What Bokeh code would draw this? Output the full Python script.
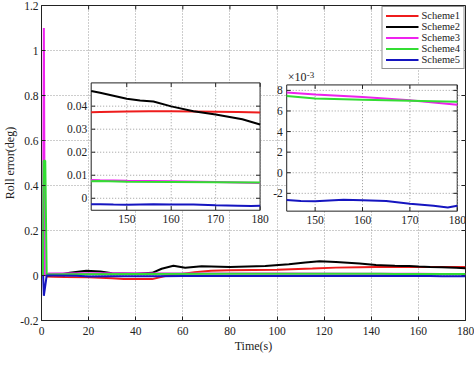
import numpy as np
from bokeh.plotting import figure
from bokeh.models import Range1d, FixedTicker, Legend, LegendItem, Label
from bokeh.embed import file_html
from bokeh.resources import INLINE
from bokeh.core.properties import value

# ---------------- data ----------------
series_names = ["Scheme1", "Scheme2", "Scheme3", "Scheme4", "Scheme5"]

t_s1 = [2, 5, 10, 20, 30, 35, 47, 52, 58, 65, 72, 80, 100, 115, 125, 135, 142, 144, 150, 155, 160, 165, 170, 175, 180]
s1 = [-0.005, -0.006, -0.007, -0.008, -0.012, -0.016, -0.016, -0.003, 0.005, 0.015, 0.021, 0.023, 0.026, 0.031, 0.035, 0.037,
      0.0374, 0.0375, 0.0377, 0.0378, 0.0378, 0.0377, 0.0376, 0.0375, 0.0373]

t_s2 = [2, 8, 12, 19, 25, 30, 40, 47, 51, 56, 61, 68, 80, 95, 105, 112, 118, 125, 135, 142, 144, 147, 150, 153, 156, 160, 165, 170, 176, 180]
s2 = [0, 0.004, 0.012, 0.021, 0.018, 0.01, 0.0075, 0.012, 0.03, 0.043, 0.034, 0.041, 0.038, 0.042, 0.05, 0.058, 0.063, 0.06,
      0.053, 0.0466, 0.0458, 0.0445, 0.0432, 0.0425, 0.0420, 0.0399, 0.0378, 0.0364, 0.0343, 0.032]

t_s3 = [0.6, 1.0, 1.4, 3, 20, 60, 100, 135, 142, 144, 150, 160, 170, 180]
s3 = [0, 1.1, 0, 0.009, 0.0095, 0.009, 0.0085, 0.0081, 0.0079, 0.0078, 0.0076, 0.00735, 0.00705, 0.0066]

t_s4 = [0.6, 0.9, 1.6, 2.2, 10, 40, 80, 120, 142, 144, 150, 160, 170, 180]
s4 = [0, 0.51, 0.51, 0.005, 0.006, 0.007, 0.0075, 0.0075, 0.0074, 0.00745, 0.0072, 0.0071, 0.0070, 0.0069]

t_s5 = [0.7, 1.0, 2.2, 5, 15, 20, 30, 50, 60, 100, 135, 142, 144, 147, 150, 156, 160, 165, 170, 175, 178, 180]
s5 = [0, -0.09, 0.0, 0.0, -0.001, -0.004, -0.003, -0.003, -0.0026, -0.0026, -0.0026, -0.0026, -0.00264, -0.00275,
      -0.00277, -0.00262, -0.00268, -0.00275, -0.0030, -0.0032, -0.00337, -0.0032]

x_ticks = [0, 20, 40, 60, 80, 100, 120, 140, 160, 180]
x_tick_labels = ["0", "20", "40", "60", "80", "100", "120", "140", "160", "180"]
y_ticks = [-0.2, 0, 0.2, 0.4, 0.6, 0.8, 1, 1.2]
y_tick_labels = ["-0.2", "0", "0.2", "0.4", "0.6", "0.8", "1", "1.2"]

in1_x_ticks = [150, 160, 170, 180]
in1_x_labels = ["150", "160", "170", "180"]
in1_y_ticks = [0, 0.01, 0.02, 0.03, 0.04]
in1_y_labels = ["0", "0.01", "0.02", "0.03", "0.04"]

in2_x_ticks = [150, 160, 170, 180]
in2_x_labels = ["150", "160", "170", "180"]
in2_y_ticks = [-0.002, 0, 0.002, 0.004, 0.006, 0.008]
in2_y_labels = ["-2", "0", "2", "4", "6", "8"]

# ---------------- style / layout ----------------
SERIF = "Liberation Serif"
INK = "#222222"
colors = ["#ee1c1c", "#000000", "#ee22ee", "#33dd33", "#1515c0"]
GRID = "#9a9a9a"
X0, X1, Y0, Y1 = 0, 180, -0.2, 1.2

# inset boxes in main data coordinates, and their own data extents
IN1_BOX = (21.1, 92.8, 0.290, 0.856)
IN1_RANGE = (142, 180, -0.0052, 0.0501)
IN2_BOX = (104.1, 176.5, 0.286, 0.847)
IN2_RANGE = (144, 180, -0.00373, 0.00853)

p = figure(width=474, height=370, x_range=Range1d(X0, X1), y_range=Range1d(Y0, Y1),
           output_backend="svg", toolbar_location=None,
           min_border_left=0, min_border_right=9, min_border_top=5, min_border_bottom=50)
p.outline_line_color = INK
p.outline_line_width = 1
p.background_fill_color = "white"
p.border_fill_color = "white"

for ax, ticks, labels in ((p.xaxis[0], x_ticks, x_tick_labels), (p.yaxis[0], y_ticks, y_tick_labels)):
    ax.ticker = FixedTicker(ticks=ticks)
    ax.major_tick_in = 4
    ax.major_tick_out = 0
    ax.minor_tick_line_color = None
    ax.axis_line_color = INK
    ax.major_tick_line_color = INK
    ax.major_label_overrides = dict(zip(ticks, labels))
    ax.major_label_text_font = SERIF
    ax.major_label_text_font_size = "11.5px"
    ax.major_label_text_color = INK
    ax.axis_label_text_font = SERIF
    ax.axis_label_text_font_size = "12px"
    ax.axis_label_text_font_style = "normal"
    ax.axis_label_text_color = INK
p.xaxis.axis_label = "Time(s)"
p.yaxis.axis_label = "Roll error(deg)"
p.xaxis.major_label_standoff = 6
p.xaxis.axis_label_standoff = 1
p.yaxis.major_label_standoff = 3
p.yaxis.axis_label_standoff = 0

# inward ticks on top and right edges of the main frame
p.ray(x=x_ticks, y=[Y1] * len(x_ticks), length=4, angle=-np.pi / 2, length_units="screen", line_color=INK)
p.ray(x=[X1] * len(y_ticks), y=y_ticks, length=4, angle=np.pi, length_units="screen", line_color=INK)

p.xgrid.ticker = FixedTicker(ticks=x_ticks)
p.ygrid.ticker = FixedTicker(ticks=y_ticks)
p.grid.grid_line_color = GRID
p.grid.grid_line_dash = "1 2"
p.grid.grid_line_width = 1

# ---------------- main lines ----------------
ts = [t_s1, t_s2, t_s3, t_s4, t_s5]
vs = [s1, s2, s3, s4, s5]
renderers = []
for t, v, c in zip(ts, vs, colors):
    renderers.append(p.line(t, v, line_color=c, line_width=2))

legend = Legend(items=[LegendItem(label=n, renderers=[r]) for n, r in zip(series_names, renderers)],
                location="top_right")
legend.border_line_color = INK
legend.border_line_width = 1
legend.background_fill_alpha = 1
legend.label_text_font = SERIF
legend.label_text_font_size = "10.5px"
legend.label_text_color = INK
legend.glyph_width = 33
legend.glyph_height = 9
legend.label_height = 9
legend.label_standoff = 3
legend.spacing = 0
legend.padding = 3
legend.margin = 1
p.add_layout(legend)

# ---------------- insets ----------------
def sub_range(a, b, f0, f1):
    w = (b - a) / (f1 - f0)
    s = a - f0 * w
    return Range1d(s, s + w)

def draw_inset(name, box, rng, xt, xl, yt, yl, members):
    bx0, bx1, by0, by1 = box
    ax0, ax1, ay0, ay1 = rng
    xr, yr = name + "x", name + "y"
    p.extra_x_ranges[xr] = sub_range(ax0, ax1, (bx0 - X0) / (X1 - X0), (bx1 - X0) / (X1 - X0))
    p.extra_y_ranges[yr] = sub_range(ay0, ay1, (by0 - Y0) / (Y1 - Y0), (by1 - Y0) / (Y1 - Y0))
    p.quad(left=[bx0], right=[bx1], bottom=[by0], top=[by1], fill_color="white",
           line_color=INK, line_width=1)
    p.segment(x0=xt, y0=[ay0] * len(xt), x1=xt, y1=[ay1] * len(xt), x_range_name=xr, y_range_name=yr,
              line_color=GRID, line_dash="1 2", line_width=1)
    p.segment(x0=[ax0] * len(yt), y0=yt, x1=[ax1] * len(yt), y1=yt, x_range_name=xr, y_range_name=yr,
              line_color=GRID, line_dash="1 2", line_width=1)
    p.ray(x=xt, y=[ay0] * len(xt), length=4, angle=np.pi / 2, length_units="screen",
          x_range_name=xr, y_range_name=yr, line_color=INK)
    p.ray(x=xt, y=[ay1] * len(xt), length=4, angle=-np.pi / 2, length_units="screen",
          x_range_name=xr, y_range_name=yr, line_color=INK)
    p.ray(x=[ax0] * len(yt), y=yt, length=4, angle=0, length_units="screen",
          x_range_name=xr, y_range_name=yr, line_color=INK)
    p.ray(x=[ax1] * len(yt), y=yt, length=4, angle=np.pi, length_units="screen",
          x_range_name=xr, y_range_name=yr, line_color=INK)
    for i in members:
        t = np.array(ts[i], dtype=float)
        v = np.array(vs[i], dtype=float)
        m = t >= ax0
        p.line(t[m], v[m], x_range_name=xr, y_range_name=yr, line_color=colors[i], line_width=2)
    p.text(x=xt, y=[by0] * len(xt), text=xl, x_range_name=xr, text_align="center", text_baseline="top",
           y_offset=5, text_font=value(SERIF), text_font_size="11.5px", text_color=INK)
    p.text(x=[bx0] * len(yt), y=yt, text=yl, y_range_name=yr, text_align="right", text_baseline="middle",
           x_offset=-4, text_font=value(SERIF), text_font_size="11.5px", text_color=INK)

draw_inset("in1", IN1_BOX, IN1_RANGE, in1_x_ticks, in1_x_labels, in1_y_ticks, in1_y_labels, [0, 1, 2, 3, 4])
draw_inset("in2", IN2_BOX, IN2_RANGE, in2_x_ticks, in2_x_labels, in2_y_ticks, in2_y_labels, [2, 3, 4])

p.add_layout(Label(x=IN2_BOX[0], y=IN2_BOX[3], text="\u00d710", text_baseline="bottom", x_offset=1, y_offset=1,
                   text_font=SERIF, text_font_size="12px", text_color=INK))
p.add_layout(Label(x=IN2_BOX[0], y=IN2_BOX[3], text="-3", text_baseline="bottom", x_offset=20, y_offset=7,
                   text_font=SERIF, text_font_size="9px", text_color=INK))

# caption along the bottom edge, as in the reference
p.add_layout(Label(x=-1.7, y=-0.342, text="Fig. 9", text_baseline="top",
                   text_font="Liberation Sans", text_font_size="15px", text_color="#2a9090"))
p.add_layout(Label(x=19.8, y=-0.342, text="Roll angle errors by different schemes in trajectory 2",
                   text_baseline="top", text_font="Liberation Sans", text_font_size="15px", text_color=INK))

open("out.html", "w").write(file_html(p, INLINE))
